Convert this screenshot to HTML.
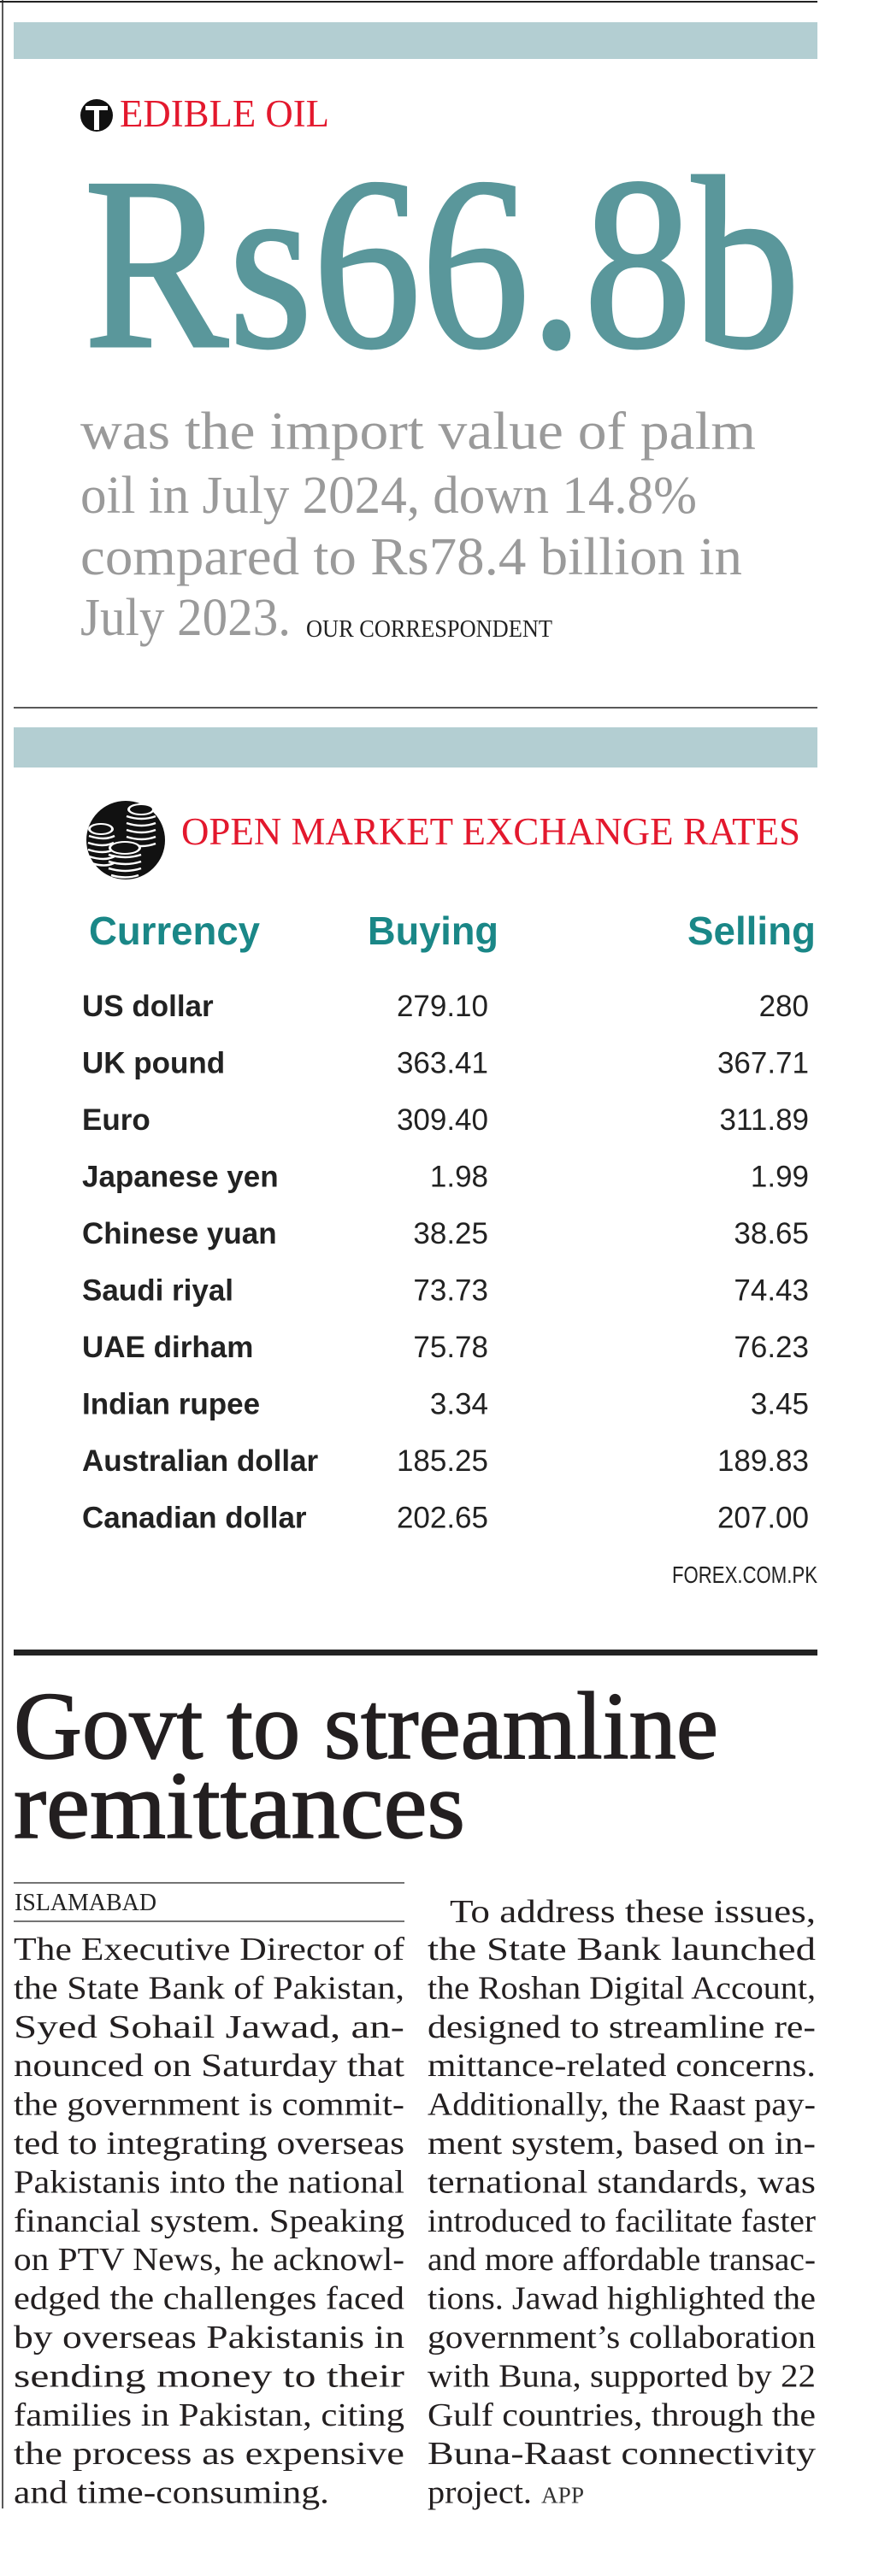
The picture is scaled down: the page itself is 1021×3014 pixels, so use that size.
<!DOCTYPE html>
<html><head><meta charset="utf-8">
<style>
html,body{margin:0;padding:0;background:#fff;}
body{width:1021px;height:3014px;position:relative;overflow:hidden;}
svg{position:absolute;left:0;top:0;}
</style></head>
<body>
<svg width="1021" height="3014" viewBox="0 0 1021 3014" xmlns="http://www.w3.org/2000/svg">
  <line x1="0" y1="2" x2="956" y2="2" stroke="#222" stroke-width="2"/>
  <line x1="3" y1="0" x2="3" y2="2935" stroke="#222" stroke-width="1.5"/>
  <rect x="16" y="26" width="940" height="43" fill="#b3ced2"/>
  <g>
    <circle cx="113" cy="135" r="19" fill="#111"/>
    <rect x="100" y="124" width="26" height="5" fill="#fff"/>
    <rect x="110" y="124" width="6" height="28" fill="#fff"/>
  </g>
  <text x="140" y="148" font-family="Liberation Serif, serif" font-size="45" fill="#e3182d" textLength="245" lengthAdjust="spacingAndGlyphs">EDIBLE OIL</text>
  <text x="98" y="405" font-family="Liberation Serif, serif" font-size="288" fill="#5a979b" stroke="#5a979b" stroke-width="3" textLength="838" lengthAdjust="spacingAndGlyphs">Rs66.8b</text>
  <g font-family="Liberation Serif, serif" font-size="62" fill="#9a9a9a">
    <text x="94" y="525" textLength="790" lengthAdjust="spacingAndGlyphs">was the import value of palm</text>
    <text x="94" y="600" textLength="721" lengthAdjust="spacingAndGlyphs">oil in July 2024, down 14.8%</text>
    <text x="94" y="672" textLength="774" lengthAdjust="spacingAndGlyphs">compared to Rs78.4 billion in</text>
    <text x="94" y="743" textLength="246" lengthAdjust="spacingAndGlyphs">July 2023.</text>
  </g>
  <text x="358" y="745" font-family="Liberation Serif, serif" font-size="29" fill="#222" textLength="288" lengthAdjust="spacingAndGlyphs">OUR CORRESPONDENT</text>
  <line x1="16" y1="828" x2="956" y2="828" stroke="#222" stroke-width="1.5"/>
  <rect x="16" y="851" width="940" height="47" fill="#b3ced2"/>
  <g>
    <circle cx="147" cy="983" r="46" fill="#111"/>
    <g stroke="#fff" stroke-width="2.5" fill="none">
      <path d="M104 978 q18 6 30 0 M103 986 q18 6 30 0 M103 994 q18 6 30 0 M104 1002 q18 6 30 0 M107 1010 q16 5 26 0"/>
      <path d="M148 955 q18 6 34 0 M148 963 q18 6 34 0 M148 971 q18 6 34 0 M148 979 q18 6 34 0 M148 987 q18 6 34 0"/>
      <path d="M127 1000 q20 6 38 0 M127 1008 q20 6 38 0 M127 1016 q20 6 38 0 M130 1024 q17 5 32 0"/>
    </g>
    <ellipse cx="165" cy="947" rx="16" ry="7" fill="#fff"/><ellipse cx="165" cy="947" rx="13" ry="5" fill="#111"/>
    <ellipse cx="118" cy="970" rx="15" ry="7" fill="#fff"/><ellipse cx="118" cy="970" rx="12" ry="5" fill="#111"/>
    <ellipse cx="146" cy="992" rx="19" ry="8" fill="#fff"/><ellipse cx="146" cy="992" rx="16" ry="6" fill="#111"/>
  </g>
  <text x="212" y="988" font-family="Liberation Serif, serif" font-size="45" fill="#e3182d" textLength="724" lengthAdjust="spacingAndGlyphs">OPEN MARKET EXCHANGE RATES</text>
  <g font-family="Liberation Sans, sans-serif" font-weight="bold" font-size="46" fill="#1a8787">
    <text x="104" y="1105" textLength="200" lengthAdjust="spacingAndGlyphs">Currency</text>
    <text x="430" y="1105" textLength="153" lengthAdjust="spacingAndGlyphs">Buying</text>
    <text x="804" y="1105" textLength="150" lengthAdjust="spacingAndGlyphs">Selling</text>
  </g>
  <g id="rates"></g>
  <text x="956" y="1852" text-anchor="end" font-family="Liberation Sans, sans-serif" font-size="28" fill="#222" textLength="170" lengthAdjust="spacingAndGlyphs">FOREX.COM.PK</text>
  <rect x="16" y="1930" width="940" height="7" fill="#222"/>
  <text x="16" y="2057" font-family="Liberation Serif, serif" font-size="112" fill="#231f20" stroke="#231f20" stroke-width="1.5" textLength="824" lengthAdjust="spacingAndGlyphs">Govt to streamline</text>
  <text x="16" y="2150" font-family="Liberation Serif, serif" font-size="112" fill="#231f20" stroke="#231f20" stroke-width="1.5" textLength="528" lengthAdjust="spacingAndGlyphs">remittances</text>
  <line x1="16" y1="2203" x2="473" y2="2203" stroke="#222" stroke-width="1.2"/>
  <text x="17" y="2235" font-family="Liberation Serif, serif" font-size="29" fill="#222" textLength="166" lengthAdjust="spacingAndGlyphs">ISLAMABAD</text>
  <line x1="16" y1="2248" x2="473" y2="2248" stroke="#222" stroke-width="1.2"/>

  <g font-family="Liberation Serif, serif" font-size="38" fill="#231f20" lengthAdjust="spacingAndGlyphs">
    <text x="16" y="2293" textLength="457" lengthAdjust="spacingAndGlyphs">The Executive Director of</text>
    <text x="16" y="2338.4" textLength="457" lengthAdjust="spacingAndGlyphs">the State Bank of Pakistan,</text>
    <text x="16" y="2383.8" textLength="457" lengthAdjust="spacingAndGlyphs">Syed Sohail Jawad, an-</text>
    <text x="16" y="2429.2" textLength="457" lengthAdjust="spacingAndGlyphs">nounced on Saturday that</text>
    <text x="16" y="2474.6" textLength="457" lengthAdjust="spacingAndGlyphs">the government is commit-</text>
    <text x="16" y="2520" textLength="457" lengthAdjust="spacingAndGlyphs">ted to integrating overseas</text>
    <text x="16" y="2565.4" textLength="457" lengthAdjust="spacingAndGlyphs">Pakistanis into the national</text>
    <text x="16" y="2610.8" textLength="457" lengthAdjust="spacingAndGlyphs">financial system. Speaking</text>
    <text x="16" y="2656.2" textLength="457" lengthAdjust="spacingAndGlyphs">on PTV News, he acknowl-</text>
    <text x="16" y="2701.6" textLength="457" lengthAdjust="spacingAndGlyphs">edged the challenges faced</text>
    <text x="16" y="2747" textLength="457" lengthAdjust="spacingAndGlyphs">by overseas Pakistanis in</text>
    <text x="16" y="2792.4" textLength="457" lengthAdjust="spacingAndGlyphs">sending money to their</text>
    <text x="16" y="2837.8" textLength="457" lengthAdjust="spacingAndGlyphs">families in Pakistan, citing</text>
    <text x="16" y="2883.2" textLength="457" lengthAdjust="spacingAndGlyphs">the process as expensive</text>
    <text x="16" y="2928.6" textLength="369" lengthAdjust="spacingAndGlyphs">and time-consuming.</text>
  </g>
  <g font-family="Liberation Serif, serif" font-size="38" fill="#231f20">
    <text x="526" y="2249" textLength="428" lengthAdjust="spacingAndGlyphs">To address these issues,</text>
    <text x="500" y="2293" textLength="454" lengthAdjust="spacingAndGlyphs">the State Bank launched</text>
    <text x="500" y="2338.4" textLength="454" lengthAdjust="spacingAndGlyphs">the Roshan Digital Account,</text>
    <text x="500" y="2383.8" textLength="454" lengthAdjust="spacingAndGlyphs">designed to streamline re-</text>
    <text x="500" y="2429.2" textLength="454" lengthAdjust="spacingAndGlyphs">mittance-related concerns.</text>
    <text x="500" y="2474.6" textLength="454" lengthAdjust="spacingAndGlyphs">Additionally, the Raast pay-</text>
    <text x="500" y="2520" textLength="454" lengthAdjust="spacingAndGlyphs">ment system, based on in-</text>
    <text x="500" y="2565.4" textLength="454" lengthAdjust="spacingAndGlyphs">ternational standards, was</text>
    <text x="500" y="2610.8" textLength="454" lengthAdjust="spacingAndGlyphs">introduced to facilitate faster</text>
    <text x="500" y="2656.2" textLength="454" lengthAdjust="spacingAndGlyphs">and more affordable transac-</text>
    <text x="500" y="2701.6" textLength="454" lengthAdjust="spacingAndGlyphs">tions. Jawad highlighted the</text>
    <text x="500" y="2747" textLength="454" lengthAdjust="spacingAndGlyphs">government’s collaboration</text>
    <text x="500" y="2792.4" textLength="454" lengthAdjust="spacingAndGlyphs">with Buna, supported by 22</text>
    <text x="500" y="2837.8" textLength="454" lengthAdjust="spacingAndGlyphs">Gulf countries, through the</text>
    <text x="500" y="2883.2" textLength="454" lengthAdjust="spacingAndGlyphs">Buna-Raast connectivity</text>
    <text x="500" y="2928.6" textLength="122" lengthAdjust="spacingAndGlyphs">project.</text>
    <text x="633" y="2928.6" font-size="27" fill="#333" textLength="50" lengthAdjust="spacingAndGlyphs">APP</text>
  </g>
</svg>

<script>
const currencies = ["US dollar","UK pound","Euro","Japanese yen","Chinese yuan","Saudi riyal","UAE dirham","Indian rupee","Australian dollar","Canadian dollar"];
const buyingRates = ["279.10","363.41","309.40","1.98","38.25","73.73","75.78","3.34","185.25","202.65"];
const sellingRates = ["280","367.71","311.89","1.99","38.65","74.43","76.23","3.45","189.83","207.00"];

const NS = "http://www.w3.org/2000/svg";
const g = document.getElementById("rates");
const rowY = i => 1189 + i * 66.5;
function mk(x, y, txt, anchor, bold) {
  const t = document.createElementNS(NS, "text");
  t.setAttribute("x", x);
  t.setAttribute("y", y);
  t.setAttribute("text-anchor", anchor);
  t.setAttribute("font-family", "Liberation Sans, sans-serif");
  t.setAttribute("font-size", "35");
  t.setAttribute("fill", "#222");
  if (bold) t.setAttribute("font-weight", "bold");
  t.textContent = txt;
  g.appendChild(t);
  return t;
}
currencies.forEach((c, i) => {
  const y = rowY(i);
  const n = mk(96, y, c, "start", true);
  
  
  const b = mk(571, y, buyingRates[i], "end", false);
  
  
  const s = mk(946, y, sellingRates[i], "end", false);
  
  
});
</script>
</body></html>
